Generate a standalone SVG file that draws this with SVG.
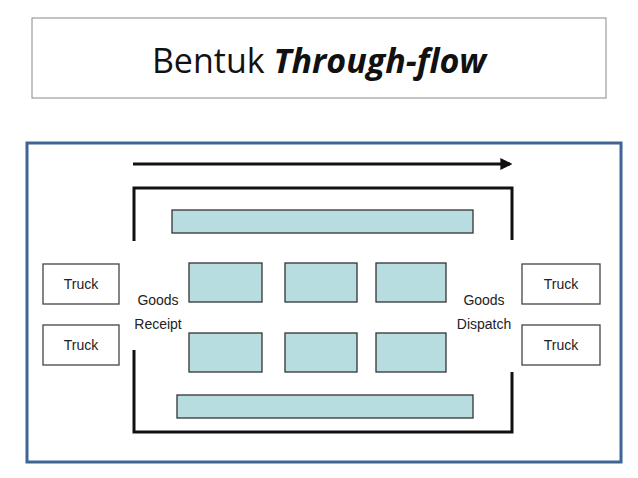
<svg xmlns="http://www.w3.org/2000/svg" width="638" height="478" viewBox="0 0 638 478">
<style>
.t{font-family:"Liberation Sans",Arial,sans-serif;font-size:14px;fill:#222;text-anchor:middle}
.tr{fill:#fff;stroke:#444;stroke-width:1.3}
.bx{fill:#b7dde0;stroke:#333;stroke-width:1.3}
.ln{fill:none;stroke:#111;stroke-width:3}
</style>
<defs><marker id="ah" viewBox="0 0 10 10" refX="8" refY="5" markerWidth="4" markerHeight="4" orient="auto"><path d="M0,0L10,5L0,10z" fill="#111"/></marker></defs>
<rect width="638" height="478" fill="#fff"/>
<g id="title"><rect x="32" y="18" width="574" height="80" fill="#fff" stroke="#888"/>
<text x="319" y="73" font-family="'Open Sans','Liberation Sans',sans-serif" font-size="34" text-anchor="middle" fill="#111">Bentuk  <tspan font-weight="bold" font-style="italic">Through-flow</tspan></text></g>
<rect x="27" y="143" width="594" height="319" fill="#fff" stroke="#3f6496" stroke-width="3"/>
<g id="connectors">
<line class="ln" x1="133" y1="164" x2="510" y2="164" marker-end="url(#ah)"/>
<path class="ln" d="M134,241V188H512V240"/>
<path class="ln" d="M134,350V432H512V372"/>
</g>
<g id="bar-top"><rect class="bx" x="172" y="210" width="301" height="23"/></g>
<g id="bar-bottom"><rect class="bx" x="177" y="395" width="296" height="23"/></g>
<g id="b1"><rect class="bx" x="189" y="263" width="73" height="39"/></g>
<g id="b2"><rect class="bx" x="285" y="263" width="72" height="39"/></g>
<g id="b3"><rect class="bx" x="376" y="263" width="70" height="39"/></g>
<g id="b4"><rect class="bx" x="189" y="333" width="73" height="39"/></g>
<g id="b5"><rect class="bx" x="285" y="333" width="72" height="39"/></g>
<g id="b6"><rect class="bx" x="376" y="333" width="70" height="39"/></g>
<g id="truck1"><rect class="tr" x="43" y="264" width="76" height="40"/><text class="t" x="81" y="289">Truck</text></g>
<g id="truck2"><rect class="tr" x="43" y="325" width="76" height="40"/><text class="t" x="81" y="350">Truck</text></g>
<g id="truck3"><rect class="tr" x="522" y="264" width="78" height="40"/><text class="t" x="561" y="289">Truck</text></g>
<g id="truck4"><rect class="tr" x="522" y="325" width="78" height="40"/><text class="t" x="561" y="350">Truck</text></g>
<g id="receipt"><text class="t" x="158" y="305">Goods</text><text class="t" x="158" y="329">Receipt</text></g>
<g id="dispatch"><text class="t" x="484" y="305">Goods</text><text class="t" x="484" y="329">Dispatch</text></g>
</svg>
